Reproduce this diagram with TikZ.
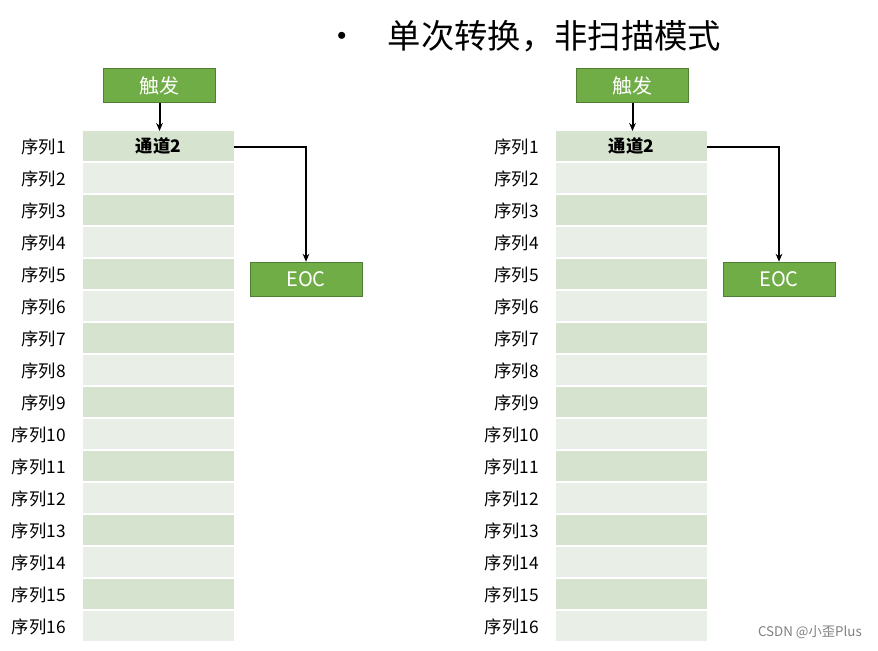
\documentclass[tikz,border=0pt]{standalone}
\usepackage{fontspec}
\setmainfont{Noto Sans CJK SC}
\usetikzlibrary{arrows.meta}
\definecolor{gdark}{HTML}{D6E3CF}
\definecolor{glight}{HTML}{E9EFE6}
\definecolor{gbox}{HTML}{70AD47}
\definecolor{gboxd}{HTML}{507E32}
\tikzset{
  greenbox/.style={fill=gbox,draw=gboxd,line width=0.6pt,minimum width=84pt,minimum height=26pt,inner sep=0pt,text=white,font=\fontsize{15}{16}\selectfont},
  rowlab/.style={anchor=east,inner sep=0pt,font=\fontsize{13}{14}\selectfont},
  conn/.style={line width=1.5pt,-{Stealth[length=6pt,width=5pt]}}
}
\begin{document}
\begin{tikzpicture}[x=0.75pt,y=-0.75pt]
\useasboundingbox (0,0) rectangle (878,650);
\node[anchor=west,inner sep=0pt,font=\fontsize{25}{28}\selectfont] (title) at (325,36) {•\hspace{22pt}单次转换，非扫描模式};
\foreach \ox/\p in {0/L,473/R}{
  \foreach \i in {1,...,16}{
    \pgfmathtruncatemacro{\odd}{mod(\i,2)}
    \ifnum\odd=1 \def\rc{gdark}\else\def\rc{glight}\fi
    \fill[\rc] (83+\ox,131+32*\i-32) rectangle (234+\ox,131+32*\i-2);
    \node[rowlab] (\p lab\i) at (66+\ox,147+32*\i-32) {序列\i};
    \coordinate (\p row\i) at (158.5+\ox,146+32*\i-32);
  }
  \node[font=\fontsize{13}{14}\selectfont\bfseries] (\p ch) at (\p row1) {通道2};
  \coordinate (\p re) at (234+\ox,147);
  \node[greenbox] (\p trig) at (159.5+\ox,85.5) {触发};
  \node[greenbox] (\p eoc) at (306+\ox,279.5) {EOC};
  \draw[conn] (\p trig.south) -- (\p trig.south |- 0,131);
  \draw[conn] (\p re) -| (\p eoc.north);
}
\node[anchor=east,inner sep=0pt,text=gray,font=\fontsize{10}{11}\selectfont] (wm) at (862,632) {CSDN @小歪Plus};
\end{tikzpicture}
\end{document}
